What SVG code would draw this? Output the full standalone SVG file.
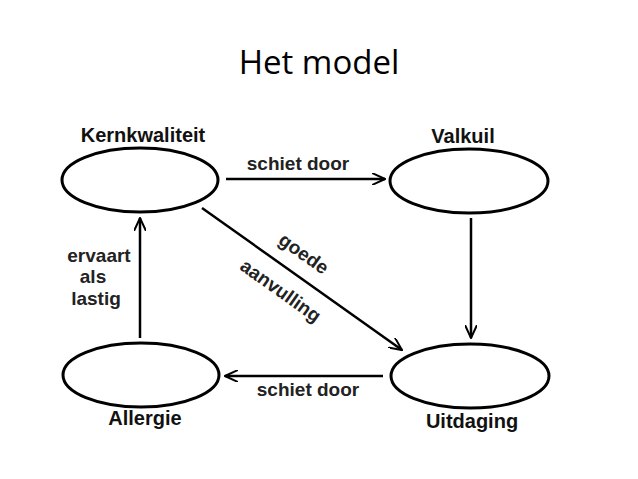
<svg xmlns="http://www.w3.org/2000/svg" width="638" height="479" viewBox="0 0 638 479">
<style>
.n{fill:none;stroke:#000;stroke-width:3}
.c{stroke:#000;stroke-width:2.5;fill:none}
.t{font-family:"Liberation Sans",Arial,sans-serif;font-weight:bold;font-size:20px;fill:#111;text-anchor:middle}
.l{font-family:"Liberation Sans",Arial,sans-serif;font-weight:bold;font-size:19px;fill:#222;text-anchor:middle}
</style>
<defs>
<marker id="a" markerWidth="14" markerHeight="12" refX="13" refY="6" orient="auto" markerUnits="userSpaceOnUse">
<path d="M0,0 L13,6 L0,12" fill="none" stroke="#000" stroke-width="2"/>
</marker>
</defs>
<rect width="638" height="479" fill="#fff"/>
<text x="319" y="74" font-family="Open Sans, sans-serif" font-size="33" text-anchor="middle" fill="#000">Het model</text>
<g id="kernkwaliteit"><ellipse class="n" cx="140" cy="180" rx="78" ry="32"/><text class="t" x="143" y="142">Kernkwaliteit</text></g>
<g id="valkuil"><ellipse class="n" cx="469" cy="181" rx="79" ry="32"/><text class="t" x="463" y="143">Valkuil</text></g>
<g id="allergie"><ellipse class="n" cx="141" cy="375" rx="78" ry="32"/><text class="t" x="145" y="425">Allergie</text></g>
<g id="uitdaging"><ellipse class="n" cx="470" cy="376" rx="79" ry="32"/><text class="t" x="472" y="428">Uitdaging</text></g>
<g id="connectors">
<line class="c" x1="226" y1="179" x2="385" y2="179" marker-end="url(#a)"/>
<line class="c" x1="471" y1="218" x2="471" y2="338" marker-end="url(#a)"/>
<line class="c" x1="202" y1="208" x2="402" y2="350" marker-end="url(#a)"/>
<line class="c" x1="383" y1="376" x2="225" y2="376" marker-end="url(#a)"/>
<line class="c" x1="140" y1="338" x2="140" y2="218" marker-end="url(#a)"/>
<text class="l" x="298" y="170">schiet door</text>
<text class="l" x="308" y="396">schiet door</text>
<text class="l" x="99" y="262">ervaart</text>
<text class="l" x="93" y="283">als</text>
<text class="l" x="96" y="305">lastig</text>
<text class="l" transform="translate(300,259) rotate(35.4)">goede</text>
<text class="l" transform="translate(277,296) rotate(35.4)">aanvulling</text>
</g>
</svg>
